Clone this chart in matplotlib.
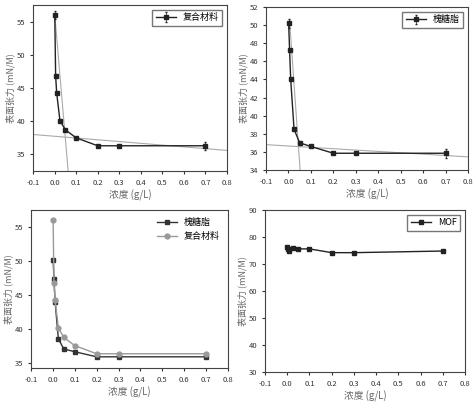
import matplotlib
matplotlib.use('Agg')
from matplotlib import pyplot as plt

plt.rcParams['font.family'] = ['Noto Sans CJK SC', 'DejaVu Sans']

conc = [0.001, 0.005, 0.01, 0.025, 0.05, 0.1, 0.2, 0.3, 0.7]
composite = [56.0, 46.8, 44.2, 40.1, 38.7, 37.5, 36.3, 36.3, 36.3]
sophorolipid = [50.2, 47.3, 44.0, 38.5, 37.0, 36.6, 35.85, 35.85, 35.85]
mof = [76.2, 75.7, 74.8, 75.8, 75.6, 75.6, 74.2, 74.2, 74.8]

# fitted tangent lines (x pairs, y pairs)
comp_flat_x, comp_flat_y = [-0.1, 0.8], [38.0, 35.6]
comp_steep_x, comp_steep_y = [0.001, 0.063], [56.0, 32.5]
soph_flat_x, soph_flat_y = [-0.1, 0.8], [36.8, 35.45]
soph_steep_x, soph_steep_y = [0.005, 0.052], [50.5, 34.0]

xticks = [-0.1, 0.0, 0.1, 0.2, 0.3, 0.4, 0.5, 0.6, 0.7, 0.8]
xlabel = '浓度 (g/L)'
ylabel = '表面张力 (mN/M)'
gray = '#666666'

W, H = 474, 409
fig = plt.figure(figsize=(W / 100, H / 100), dpi=100)


def make_ax(x0, y0, x1, y1):
    ax = fig.add_axes([x0 / W, 1 - y1 / H, (x1 - x0) / W, (y1 - y0) / H])
    ax.set_xlim(-0.1, 0.8)
    ax.set_xticks(xticks)
    ax.set_xticklabels(['%.1f' % t for t in xticks])
    ax.tick_params(labelsize=5.5, length=2, colors='#333333')
    ax.set_xlabel(xlabel, fontsize=7, color=gray, labelpad=2)
    ax.set_ylabel(ylabel, fontsize=6.5, color=gray, labelpad=1)
    for s in ax.spines.values():
        s.set_color('#444444')
        s.set_linewidth(0.8)
    return ax


def errs(vals, first, last):
    e = [0] * len(vals)
    e[0] = first
    e[-1] = last
    return e


# top-left: composite
ax = make_ax(33, 5, 227, 171)
ax.plot(comp_flat_x, comp_flat_y, color='#aaaaaa', lw=0.8)
ax.plot(comp_steep_x, comp_steep_y, color='#aaaaaa', lw=0.8)
ax.errorbar(conc, composite, yerr=errs(composite, 0.6, 0.6), color='#222222', marker='s',
            ms=3.5, lw=1, elinewidth=0.5, capsize=1, label='复合材料')
ax.set_ylim(32.5, 57.5)
ax.set_yticks([35, 40, 45, 50, 55])
ax.legend(fontsize=6.5, loc='upper right', fancybox=False, edgecolor='#555555', handlelength=2.2)

# top-right: sophorolipid
ax = make_ax(266, 7, 468, 170)
ax.plot(soph_flat_x, soph_flat_y, color='#aaaaaa', lw=0.8)
ax.plot(soph_steep_x, soph_steep_y, color='#aaaaaa', lw=0.8)
ax.errorbar(conc, sophorolipid, yerr=errs(sophorolipid, 0.5, 0.5), color='#222222', marker='s',
            ms=3.5, lw=1, elinewidth=0.5, capsize=1, label='槐糖脂')
ax.set_ylim(34, 52)
ax.set_yticks(list(range(34, 53, 2)))
ax.legend(fontsize=6.5, loc='upper right', fancybox=False, edgecolor='#555555', handlelength=2.2)

# bottom-left: both
ax = make_ax(31, 210, 228, 368)
ax.plot(conc, sophorolipid, color='#333333', marker='s', ms=3.5, lw=1, label='槐糖脂')
ax.plot(conc, composite, color='#999999', marker='o', ms=3.5, lw=1, label='复合材料')
ax.set_ylim(34.2, 57.5)
ax.set_yticks([35, 40, 45, 50, 55])
ax.legend(fontsize=6.5, loc='upper right', frameon=False, handlelength=2.2)

# bottom-right: MOF
ax = make_ax(265, 210, 465, 372)
ax.plot(conc, mof, color='#222222', marker='s', ms=3.5, lw=1, label='MOF')
ax.set_ylim(30, 90)
ax.set_yticks(list(range(30, 91, 10)))
ax.legend(fontsize=6.5, loc='upper right', fancybox=False, edgecolor='#555555', handlelength=2.2)

fig.savefig('out.png', dpi=100)
